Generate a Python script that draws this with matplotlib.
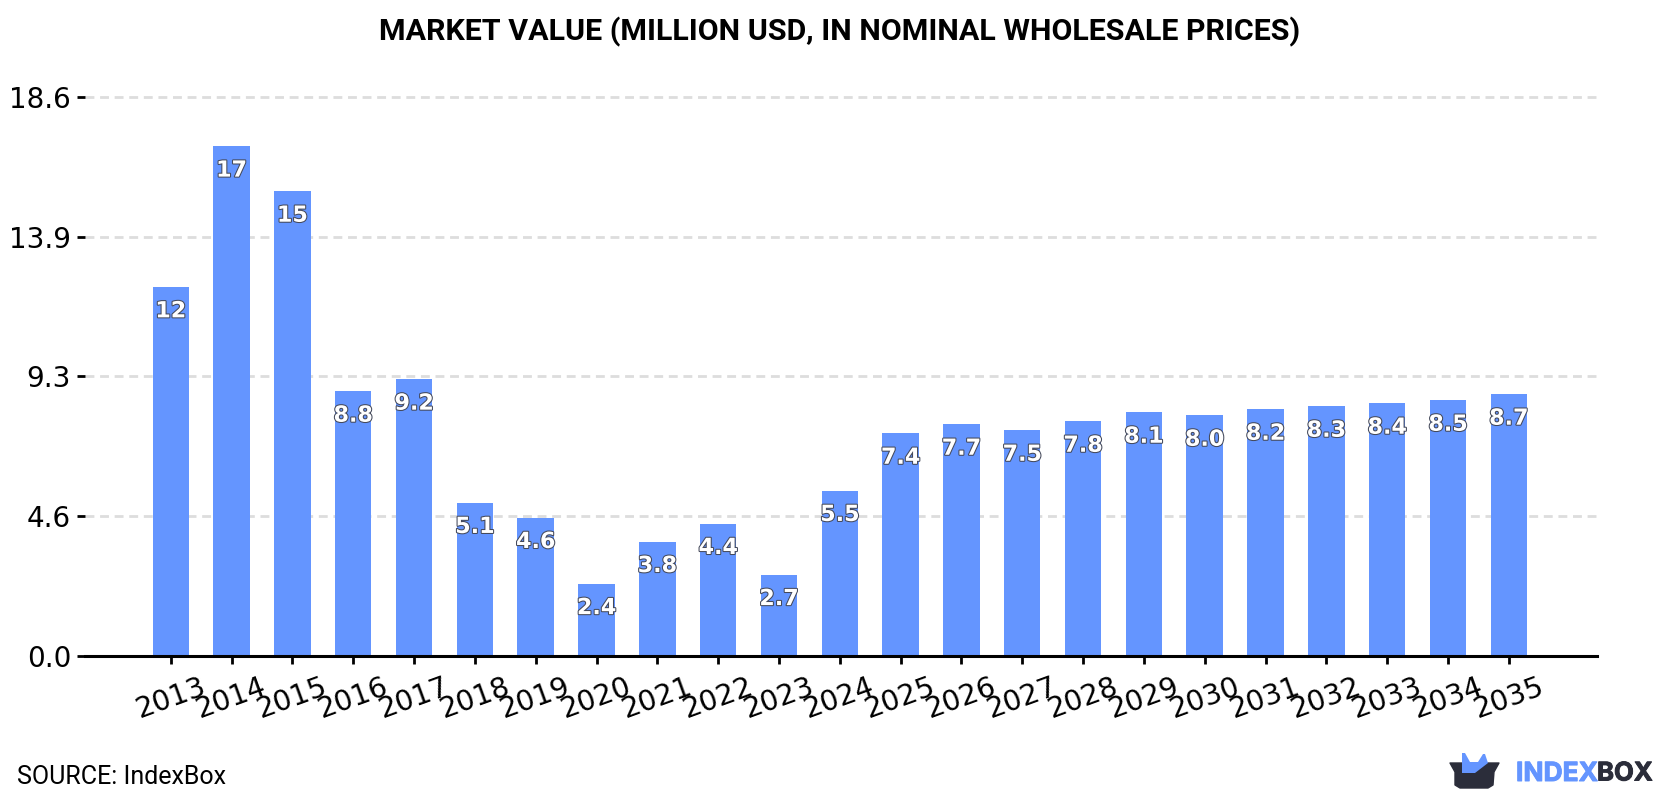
import matplotlib
matplotlib.use("Agg")
import matplotlib.pyplot as plt
import matplotlib.patheffects as pe
from matplotlib.patches import Polygon

years = [2013, 2014, 2015, 2016, 2017, 2018, 2019, 2020, 2021, 2022, 2023, 2024,
         2025, 2026, 2027, 2028, 2029, 2030, 2031, 2032, 2033, 2034, 2035]
values = [12.27, 16.95, 15.45, 8.8, 9.2, 5.1, 4.6, 2.4, 3.8, 4.4, 2.7, 5.5,
          7.4, 7.7, 7.5, 7.8, 8.1, 8.0, 8.2, 8.3, 8.4, 8.5, 8.7]
y_ticks = [0, 4.65, 9.3, 13.95, 18.6]
y_tick_labels = ["0.0", "4.6", "9.3", "13.9", "18.6"]

BLUE = "#6495ff"
DARK = "#2b2d3a"


def bar_label(v):
    # values above ten only get two significant digits
    if v >= 10:
        return "%.0f" % v
    return "%.1f" % v


fig = plt.figure(figsize=(16.8, 8), dpi=100, facecolor="white")
ax = fig.add_axes([85 / 1680, 144 / 800, 1512 / 1680, 596 / 800])

x = list(range(len(years)))
ax.bar(x, values, width=0.6, color=BLUE, zorder=2)
ax.set_xlim(-1.41, 23.45)
ax.set_ylim(0, 19.82)

for s in ["top", "left", "right"]:
    ax.spines[s].set_visible(False)
ax.spines["bottom"].set_linewidth(2.2)
ax.spines["bottom"].set_color("black")

ax.yaxis.grid(True, color="#dddddd", linewidth=2.0, linestyle=(0, (3.2, 2.05)), zorder=1)
ax.set_axisbelow(True)
ax.set_yticks(y_ticks)
ax.set_yticklabels(y_tick_labels, fontsize=20)
ax.set_xticks(x)
ax.set_xticklabels(years, fontsize=20.5, rotation=20)
ax.tick_params(axis="y", length=6, width=2, pad=4)
ax.tick_params(axis="x", length=6, width=2, pad=6)

for xi, v in zip(x, values):
    ax.annotate(bar_label(v), (xi, v), xytext=(0, -17.5), textcoords="offset points",
                ha="center", va="center", fontsize=16, fontweight="bold",
                color="white", family="DejaVu Sans", zorder=3,
                path_effects=[pe.withStroke(linewidth=1.5, foreground="#44495a")])

fig.text(0.5, 1 - 32 / 800, "MARKET VALUE (MILLION USD, IN NOMINAL WHOLESALE PRICES)",
         ha="center", va="center", fontsize=21.9, fontweight="bold", family="Roboto")
fig.text(17 / 1680, 1 - 777 / 800, "SOURCE: IndexBox", ha="left", va="center",
         fontsize=18, family="Roboto")

# logo, on a pixel-sized overlay
logo = fig.add_axes([0, 0, 1, 1], facecolor="none")
logo.set_xlim(0, 1680)
logo.set_ylim(800, 0)
logo.axis("off")
box = [(1450, 763), (1499, 763), (1494, 772), (1493, 785), (1488, 788), (1460, 788),
       (1455, 785), (1455, 772)]
flap = [(1462, 753), (1465, 753), (1470, 762), (1478, 762), (1483, 754), (1485, 754),
        (1488, 763), (1475, 773), (1462, 773)]
logo.add_patch(Polygon(box, closed=True, facecolor=DARK, edgecolor=DARK, linewidth=1, joinstyle="round"))
logo.add_patch(Polygon(flap, closed=True, facecolor=BLUE, edgecolor="none"))
thick_blue = [pe.withStroke(linewidth=0.7, foreground=BLUE)]
thick_dark = [pe.withStroke(linewidth=0.7, foreground=DARK)]
logo.text(1516, 774, "INDEX", color=BLUE, fontsize=19, fontweight="bold", family="Inter",
          ha="left", va="center", path_effects=thick_blue)
logo.text(1597, 774, "BOX", color=DARK, fontsize=18.5, fontweight="bold", family="Inter",
          ha="left", va="center", path_effects=thick_dark)

fig.savefig("out.png", dpi=100)
